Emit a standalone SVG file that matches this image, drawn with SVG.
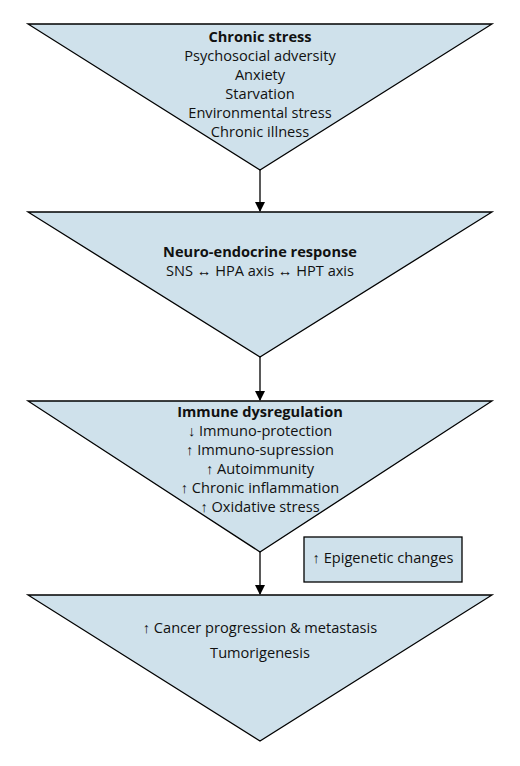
<svg xmlns="http://www.w3.org/2000/svg" width="520" height="766" viewBox="0 0 520 766">
<style>
.tri{fill:#cfe1eb;stroke:#000;stroke-width:1.3}
text{font-family:"Open Sans","Noto Sans","Liberation Sans",sans-serif;font-size:14.6px;fill:#111;text-anchor:middle}
.b{font-weight:bold}
.c{stroke:#000;stroke-width:1.3;fill:none}
</style>
<defs>
<marker id="ah" markerWidth="10" markerHeight="10" refX="9" refY="5" orient="auto" markerUnits="userSpaceOnUse">
<path d="M0,0 L10,5 L0,10 Z" fill="#000"/>
</marker>
</defs>
<rect width="520" height="766" fill="#fff"/>
<g id="connectors">
<line class="c" x1="260" y1="170" x2="260" y2="211" marker-end="url(#ah)"/>
<line class="c" x1="260" y1="357" x2="260" y2="400" marker-end="url(#ah)"/>
<line class="c" x1="260" y1="552" x2="260" y2="594" marker-end="url(#ah)"/>
</g>
<g id="chronic-stress">
<polygon class="tri" points="28,24 492,24 260,170"/>
<text class="b" x="260" y="42">Chronic stress</text>
<text x="260" y="61">Psychosocial adversity</text>
<text x="260" y="80">Anxiety</text>
<text x="260" y="99">Starvation</text>
<text x="260" y="118">Environmental stress</text>
<text x="260" y="137">Chronic illness</text>
</g>
<g id="neuro-endocrine">
<polygon class="tri" points="28,212 492,212 260,357"/>
<text class="b" x="260" y="257">Neuro-endocrine response</text>
<text x="260" y="276">SNS ↔ HPA axis ↔ HPT axis</text>
</g>
<g id="immune">
<polygon class="tri" points="28,401 492,401 260,552"/>
<text class="b" x="260" y="417">Immune dysregulation</text>
<text x="260" y="436">↓ Immuno-protection</text>
<text x="260" y="455">↑ Immuno-supression</text>
<text x="260" y="474">↑ Autoimmunity</text>
<text x="260" y="493">↑ Chronic inflammation</text>
<text x="260" y="512">↑ Oxidative stress</text>
</g>
<g id="epigenetic">
<rect x="304" y="537" width="158" height="45" fill="#cfe1eb" stroke="#000" stroke-width="1.3"/>
<text x="383" y="563">↑ Epigenetic changes</text>
</g>
<g id="cancer">
<polygon class="tri" points="28,595 492,595 260,741"/>
<text x="260" y="633">↑ Cancer progression &amp; metastasis</text>
<text x="260" y="658">Tumorigenesis</text>
</g>
</svg>
